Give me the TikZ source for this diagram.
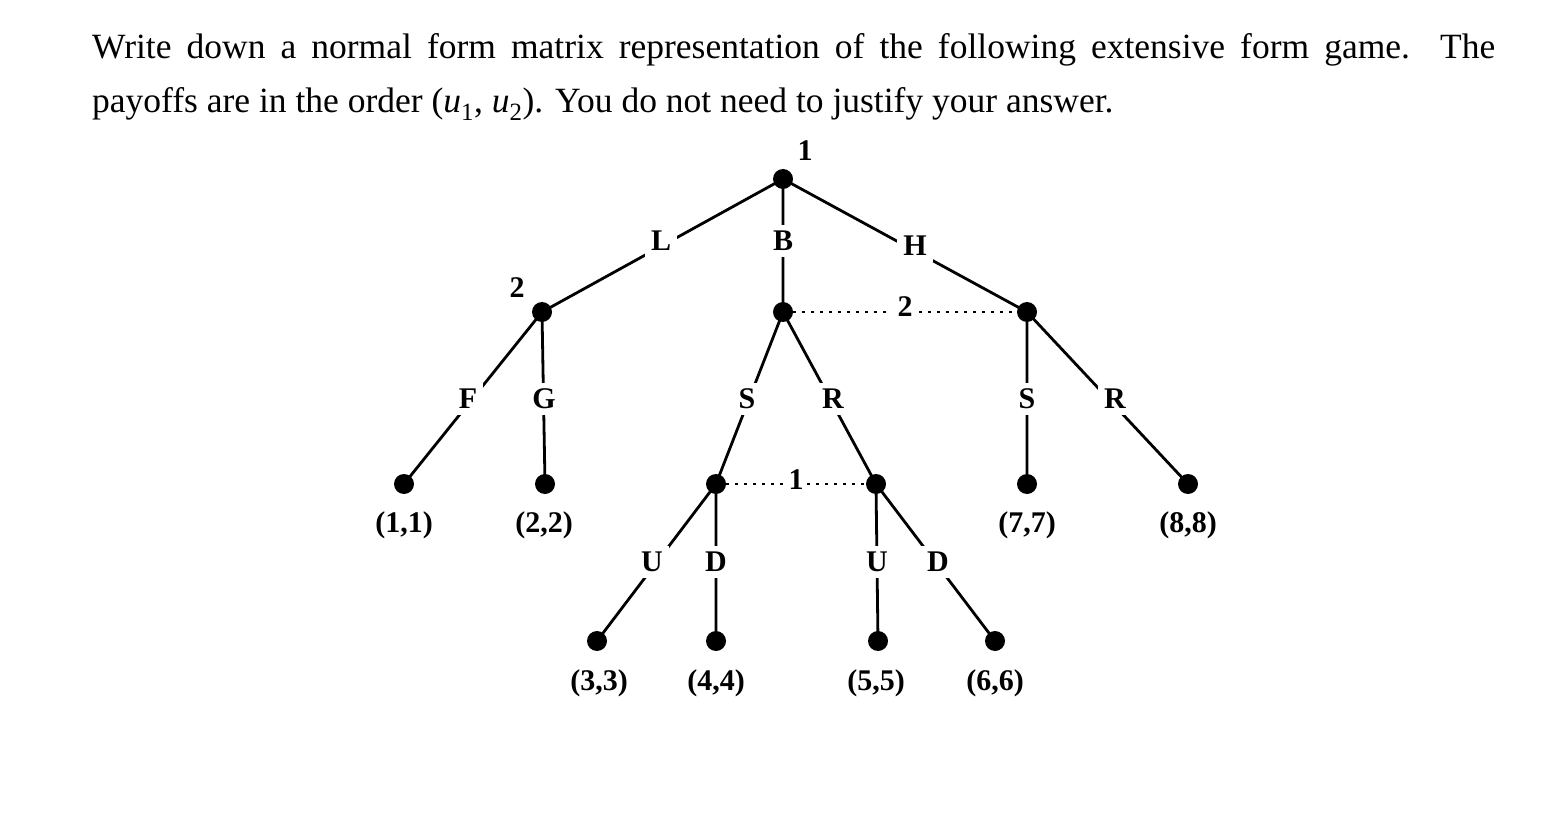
\documentclass[tikz,border=0pt]{standalone}
\usepackage{fontspec}
\setmainfont{Liberation Serif}
\begin{document}
\begin{tikzpicture}[x=1pt,y=-1pt,
  dot/.style={circle,fill=black,inner sep=0pt,minimum size=20pt},
  lab/.style={fill=white,inner sep=6pt,font=\fontsize{30}{32}\selectfont\bfseries},
  pay/.style={font=\fontsize{30}{32}\selectfont\bfseries},
  edge/.style={line width=2.8pt},
  info/.style={line width=2.5pt,dash pattern=on 3pt off 6pt}]
\useasboundingbox (0,0) rectangle (1551,821);
\node[anchor=north west,inner sep=0pt,text width=1403pt,align=justify,font=\fontsize{35.5}{54}\selectfont] (t) at (92,33) {Write down a normal form matrix representation of the following extensive form game.\ \ The\linebreak payoffs are in the order (\textit{u}\textsubscript{1}, \textit{u}\textsubscript{2}). You do not need to justify your answer.};
% nodes
\node[dot] (r) at (783,179) {};
\node[dot] (nL) at (542,312) {};
\node[dot] (nB) at (783,312) {};
\node[dot] (nH) at (1027,312) {};
\node[dot] (a) at (404,484) {};
\node[dot] (b) at (545,484) {};
\node[dot] (nS) at (716,484) {};
\node[dot] (nR) at (876,484) {};
\node[dot] (g) at (1027,484) {};
\node[dot] (h) at (1188,484) {};
\node[dot] (c) at (597,641) {};
\node[dot] (d) at (716,641) {};
\node[dot] (e) at (878,641) {};
\node[dot] (f) at (995,641) {};
% edges
\draw[edge] (r.center)--(nL.center) (r.center)--(nB.center) (r.center)--(nH.center)
 (nL.center)--(a.center) (nL.center)--(b.center)
 (nB.center)--(nS.center) (nB.center)--(nR.center)
 (nH.center)--(g.center) (nH.center)--(h.center)
 (nS.center)--(c.center) (nS.center)--(d.center)
 (nR.center)--(e.center) (nR.center)--(f.center);
\draw[info] (nB)--(nH);
\draw[info] (nS)--(nR);
% player labels
\node[pay] (p1) at (805,151) {1};
\node[pay] (p2) at (517,288) {2};
\node[lab] (p2b) at (905,307) {2};
\node[lab,inner sep=3pt] (p1b) at (796,480) {1};
% action labels
\node[lab] (lL) at (661,241) {L};
\node[lab] (lB) at (783,241) {B};
\node[lab] (lH) at (915,246) {H};
\node[lab] (lF) at (468,399) {F};
\node[lab] (lG) at (544,399) {G};
\node[lab] (lS) at (747,399) {S};
\node[lab] (lR) at (833,399) {R};
\node[lab] (lS2) at (1027,399) {S};
\node[lab] (lR2) at (1115,399) {R};
\node[lab] (lU) at (652,562) {U};
\node[lab] (lD) at (716,562) {D};
\node[lab] (lU2) at (877,562) {U};
\node[lab] (lD2) at (938,562) {D};
% payoffs
\node[pay] (q1) at (404,525) {(1,1)};
\node[pay] (q2) at (544,525) {(2,2)};
\node[pay] (q7) at (1027,525) {(7,7)};
\node[pay] (q8) at (1188,525) {(8,8)};
\node[pay] (q3) at (599,683) {(3,3)};
\node[pay] (q4) at (716,683) {(4,4)};
\node[pay] (q5) at (876,683) {(5,5)};
\node[pay] (q6) at (995,683) {(6,6)};
\end{tikzpicture}
\end{document}
